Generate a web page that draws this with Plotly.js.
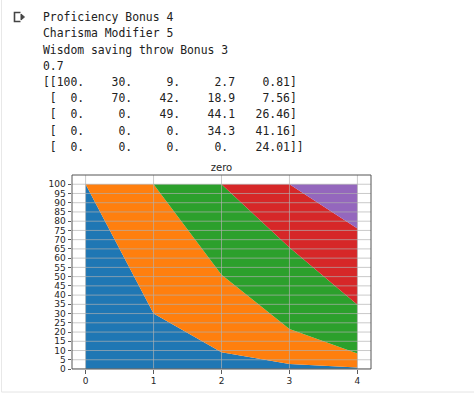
<!DOCTYPE html>
<html>
<head>
<meta charset="utf-8">
<script src="https://cdn.plot.ly/plotly-3.0.1.min.js"></script>
<style>
html,body{margin:0;padding:0;background:#fff;}
#chart{width:474px;height:397px;}
</style>
</head>
<body>
<div id="chart"></div>
<script>
// ---- data ----
const proficiencyBonus = 4;
const charismaModifier = 5;
const wisdomSaveBonus = 3;
const failChance = 0.7;
const xRounds = [0, 1, 2, 3, 4];
const series0 = [100, 30, 9, 2.7, 0.81];
const series1 = [0, 70, 42, 18.9, 7.56];
const series2 = [0, 0, 49, 44.1, 26.46];
const series3 = [0, 0, 0, 34.3, 41.16];
const series4 = [0, 0, 0, 0, 24.01];
const seriesColors = ['#1f77b4', '#ff7f0e', '#2ca02c', '#d62728', '#9467bd'];
const yTicks = [0,5,10,15,20,25,30,35,40,45,50,55,60,65,70,75,80,85,90,95,100];
const xTicks = [0, 1, 2, 3, 4];
const chartTitle = 'zero';

const allSeries = [series0, series1, series2, series3, series4];

// ---- geometry (pixel layout of the plot area) ----
const W = 474, H = 397;
const PL = 72, PR = 371, PT = 175, PB = 369;
const pw = PR - PL, ph = PB - PT;
const px = v => (v - PL) / pw;
const py = v => (PB - v) / ph;

// numpy-like matrix formatting
function fmtNum(v) {
  let s = (Math.round(v * 100) / 100).toString();
  let [ip, fp] = s.split('.');
  fp = fp || '';
  return ip.padStart(3, ' ') + '.' + fp.padEnd(2, ' ');
}
function matrixLines(rows) {
  return rows.map((r, i) => {
    const body = r.map(fmtNum).join(' ').replace(/\s+$/, '');
    const pre = i === 0 ? '[[' : ' [';
    const post = i === rows.length - 1 ? ']]' : ']';
    return pre + body + post;
  });
}
const textLines = [
  'Proficiency Bonus ' + proficiencyBonus,
  'Charisma Modifier ' + charismaModifier,
  'Wisdom saving throw Bonus ' + wisdomSaveBonus,
  String(failChance),
  ...matrixLines(allSeries)
];

const annotations = textLines.map((t, i) => ({
  xref: 'paper', yref: 'paper',
  x: px(41.5), y: py(17.3 + 16.18 * i),
  xanchor: 'left', yanchor: 'middle',
  text: t.replace(/ /g, '\u00A0'),
  showarrow: false,
  font: {family: 'DejaVu Sans Mono, monospace', size: 11.4, color: '#212121'},
  borderpad: 0
}));

const traces = allSeries.map((s, i) => ({
  type: 'scatter', mode: 'lines',
  x: xRounds, y: s,
  stackgroup: 'one',
  line: {width: 0, color: seriesColors[i]},
  fillcolor: seriesColors[i],
  hoverinfo: 'skip'
}));

const gridColor = 'rgba(176,176,176,0.85)';
const shapes = [];
yTicks.forEach(v => shapes.push({type: 'line', xref: 'paper', yref: 'y', x0: 0, x1: 1, y0: v, y1: v,
  line: {color: gridColor, width: 0.8}, layer: 'above'}));
xTicks.forEach(v => shapes.push({type: 'line', xref: 'x', yref: 'paper', x0: v, x1: v, y0: 0, y1: 1,
  line: {color: gridColor, width: 0.8}, layer: 'above'}));
// frame
shapes.push({type: 'rect', xref: 'paper', yref: 'paper', x0: 0, x1: 1, y0: 0, y1: 1,
  line: {color: '#555', width: 1}, layer: 'above'});
// notebook cell edges
shapes.push({type: 'line', xref: 'paper', yref: 'paper', x0: px(1.5), x1: px(1.5), y0: py(0), y1: py(392),
  line: {color: '#e8e8e8', width: 1}, layer: 'above'});
shapes.push({type: 'line', xref: 'paper', yref: 'paper', x0: px(1.5), x1: px(474), y0: py(392), y1: py(392),
  line: {color: '#e4e4e4', width: 1}, layer: 'above'});
// output icon
function pth(pts) { return 'M' + pts.map(p => px(p[0]) + ',' + py(p[1])).join(' L'); }
shapes.push({type: 'path', xref: 'paper', yref: 'paper',
  path: pth([[20.5, 12.5], [14.5, 12.5], [14.5, 21.5], [20.5, 21.5]]),
  line: {color: '#444', width: 1.6}, layer: 'above'});
shapes.push({type: 'path', xref: 'paper', yref: 'paper',
  path: pth([[21, 14], [24.5, 17], [21, 20]]) + ' Z',
  fillcolor: '#444', line: {color: '#444', width: 1}, layer: 'above'});

const axisCommon = {
  showgrid: false, zeroline: false, showline: false,
  ticks: 'outside', ticklen: 3.5, tickwidth: 0.8, tickcolor: '#333',
  tickfont: {family: 'DejaVu Sans, sans-serif', size: 9, color: '#262626'}
};

const layout = {
  width: W, height: H,
  margin: {l: PL, r: W - PR, t: PT, b: H - PB, pad: 0},
  paper_bgcolor: '#fff', plot_bgcolor: '#fff',
  showlegend: false,
  title: {text: chartTitle, x: (PL + PR) / 2 / W, xanchor: 'center',
          y: 1 - 167 / H, yanchor: 'middle',
          font: {family: 'DejaVu Sans, sans-serif', size: 10, color: '#262626'}},
  xaxis: Object.assign({}, axisCommon, {range: [-0.2, 4.2], tickmode: 'array', tickvals: xTicks, ticktext: xTicks.map(String)}),
  yaxis: Object.assign({}, axisCommon, {range: [0, 105], tickmode: 'array', tickvals: yTicks, ticktext: yTicks.map(String)}),
  annotations: annotations,
  shapes: shapes
};

Plotly.newPlot('chart', traces, layout, {staticPlot: true, displayModeBar: false});
</script>
</body>
</html>
